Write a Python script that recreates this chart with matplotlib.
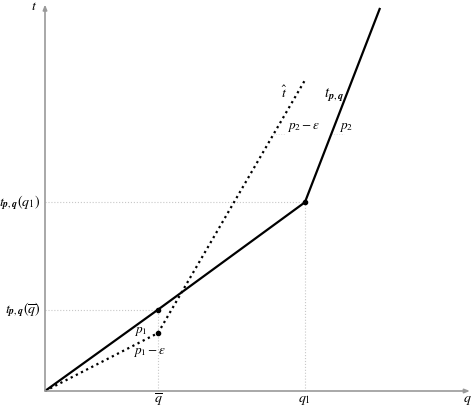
import matplotlib

matplotlib.use('Agg')
import matplotlib.pyplot as plt

plt.rcParams['font.family'] = ['Liberation Serif', 'DejaVu Serif']
plt.rcParams['mathtext.fontset'] = 'stix'

# piecewise-linear t_{p,q} and the perturbed \hat t (q-bar = 1 unit)
Q_BAR = 1.0
Q_1 = 2.3
solid_q = [0.0, Q_BAR, Q_1, 2.965]
solid_t = [0.0, 0.72, 1.67, 3.39]
dotted_q = [0.0, Q_BAR, Q_1]
dotted_t = [0.0, 0.513, 2.75]

x_end = 3.76
y_end = 3.42

fig = plt.figure(figsize=(4.74, 4.08), dpi=100)
ax = fig.add_axes([0, 0, 1, 1])
ax.set_xlim(-45 / 113, 429 / 113)
ax.set_ylim(-17 / 113, 391 / 113)
ax.axis('off')

axis_col = '#9a9a9a'
guide_col = '#c8c8c8'

# axes with small arrowheads
ax.annotate('', xy=(x_end, 0), xytext=(0, 0),
            arrowprops=dict(arrowstyle='-|>,head_length=0.3,head_width=0.12',
                            color=axis_col, lw=1.2, shrinkA=0, shrinkB=0))
ax.annotate('', xy=(0, y_end), xytext=(0, 0),
            arrowprops=dict(arrowstyle='-|>,head_length=0.3,head_width=0.12',
                            color=axis_col, lw=1.2, shrinkA=0, shrinkB=0))

# guide lines
ax.plot([0, Q_BAR], [solid_t[1]] * 2, ls=':', color=guide_col, lw=0.8)
ax.plot([Q_BAR, Q_BAR], [0, solid_t[1]], ls=':', color=guide_col, lw=0.8)
ax.plot([0, Q_1], [solid_t[2]] * 2, ls=':', color=guide_col, lw=0.8)
ax.plot([Q_1, Q_1], [0, solid_t[2]], ls=':', color=guide_col, lw=0.8)

# faint slope marks
ax.plot([2.53, 2.65], [2.27, 2.27], ls=':', color='#e0e0e0', lw=0.7)
ax.plot([2.02, 2.12], [2.27, 2.27], ls=':', color='#e0e0e0', lw=0.7)

ax.plot(solid_q, solid_t, color='black', lw=1.6, solid_capstyle='butt')
ax.plot(dotted_q, dotted_t, color='black', lw=1.6, ls=(0, (1, 1.6)))
ax.plot([Q_BAR, Q_1, Q_BAR], [solid_t[1], solid_t[2], dotted_t[1]], 'o',
        color='black', ms=3)

ax.text(-0.07, y_end - 0.02, r'$t$', fontsize=10, ha='right', va='center')
ax.text(x_end - 0.02, -0.085, r'$q$', fontsize=10, ha='center', va='center')
ax.text(Q_BAR, -0.082, r'$\overline{q}$', fontsize=10, ha='center', va='center')
ax.text(Q_1, -0.085, r'$q_1$', fontsize=10, ha='center', va='center')
ax.text(-0.04, solid_t[2], r'$t_{\mathbfit{p},\mathbfit{q}}(q_1)$', fontsize=10,
        ha='right', va='center')
ax.text(-0.04, solid_t[1], r'$t_{\mathbfit{p},\mathbfit{q}}(\overline{q})$',
        fontsize=10, ha='right', va='center')

ax.text(2.12, 2.64, r'$\hat{t}$', fontsize=10, ha='center', va='center')
ax.text(2.56, 2.62, r'$t_{\mathbfit{p},\mathbfit{q}}$', fontsize=10.5,
        ha='center', va='center')
ax.text(2.29, 2.33, r'$p_2-\varepsilon$', fontsize=9.5, ha='center', va='center')
ax.text(2.66, 2.33, r'$p_2$', fontsize=9.5, ha='center', va='center')
ax.text(0.85, 0.53, r'$p_1$', fontsize=9.5, ha='center', va='center')
ax.text(0.93, 0.345, r'$p_1-\varepsilon$', fontsize=9.5, ha='center', va='center')

fig.savefig('out.png', dpi=100)
